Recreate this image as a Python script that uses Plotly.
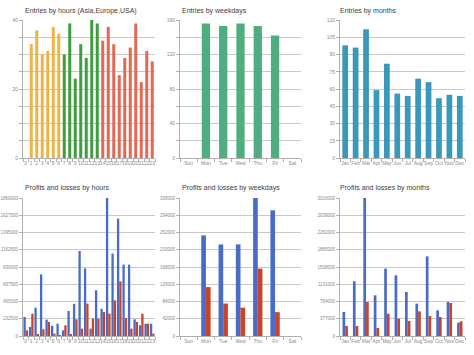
import plotly.graph_objects as go

# ---------------- data ----------------
hours = [str(h) for h in range(24)]
hour_entries = [0, 33, 37, 30, 31, 38, 36, 30, 39, 23, 33, 29, 40, 39, 34, 38, 33, 24, 29, 32, 39, 22, 31, 28]
hour_region = ["Asia"] * 7 + ["Europe"] * 7 + ["USA"] * 10

weekdays = ["Sun", "Mon", "Tue", "Wed", "Thu", "Fri", "Sat"]
weekday_entries = [0, 156, 153, 156, 153, 142, 0]

months = ["Jan", "Feb", "Mar", "Apr", "May", "Jun", "Jul", "Aug", "Sep", "Oct", "Nov", "Dec"]
month_entries = [98, 96, 112, 59, 82, 56, 54, 69, 66, 52, 55, 54]

hour_profits = [256000, 121000, 382000, 831000, 220000, 139000, 166000, 76000, 337000, 434000,
                1146000, 912000, 99000, 616000, 368000, 1900000, 1111000, 1582000, 962000, 962000,
                225000, 144000, 166000, 166000]
hour_losses = [76000, 301000, 20000, 90000, 189000, 31000, 10000, 144000, 15000, 225000,
               99000, 436000, 234000, 234000, 324000, 301000, 480000, 737000, 243000, 99000,
               189000, 301000, 166000, 31000]

weekday_profits = [0, 245000, 223000, 223000, 340000, 306000, 0]
weekday_losses = [0, 119000, 79000, 69000, 164000, 58000, 0]

month_profits = [525000, 1195000, 3050000, 889000, 1472000, 1326000, 962000, 707000, 1741000, 561000, 743000, 291000]
month_losses = [219000, 219000, 743000, 175000, 488000, 379000, 328000, 539000, 437000, 415000, 721000, 321000]

titles = ["Entries by hours (Asia,Europe,USA)", "Entries by weekdays", "Entries by months",
          "Profits and losses by hours", "Profits and losses by weekdays", "Profits and losses by months"]

# y tick labels
top_hour_ticks = [0, 20, 40]
top_week_ticks = [0, 40, 80, 120, 160]
top_month_ticks = [0, 15, 30, 45, 60, 75, 90, 105, 120]
pl_hour_ticks = [0, 232500, 465000, 697500, 930000, 1162500, 1395000, 1627500, 1860000]
pl_week_ticks = [0, 42000, 84000, 126000, 168000, 210000, 252000, 294000, 336000]
pl_month_ticks = [0, 377000, 754000, 1131000, 1508000, 1885000, 2262000, 2639000, 3016000]

# ---------------- styling ----------------
FONT = "Liberation Sans, Arial, sans-serif"
GRID = "#c9c9c9"
TICKC = "#8a8a8a"
AXC = "#b0b0b0"
region_colors = {"Asia": "#efb446", "Europe": "#3f9e3f", "USA": "#e26a55"}
BLUE = "#4a6cc6"
RED = "#c8442a"

W, H = 474, 355
def px_x(p): return p / W
def px_y(p): return 1 - p / H

xdom = [(23, 155), (180, 301), (340, 465)]
ydom = [(20, 158), (198, 336)]

fig = go.Figure()

def add_axes(i, cats, ticks, rng, minor_dtick=None, yfont=5):
    row = i // 3
    col = i % 3
    xa = "xaxis" if i == 0 else f"xaxis{i+1}"
    ya = "yaxis" if i == 0 else f"yaxis{i+1}"
    xr = "x" if i == 0 else f"x{i+1}"
    yr = "y" if i == 0 else f"y{i+1}"
    x0, x1 = xdom[col]
    y0, y1 = ydom[row]
    xaxis = dict(domain=[px_x(x0), px_x(x1)], anchor=yr, type="category",
                 categoryorder="array", categoryarray=cats,
                 tickmode="array", tickvals=cats, ticktext=cats,
                 showline=True, linecolor=AXC, linewidth=1,
                 ticks="outside", tickson="boundaries", ticklen=3, tickcolor=AXC,
                 tickfont=dict(family=FONT, size=5, color=TICKC),
                 showgrid=False, zeroline=False, tickangle=0, fixedrange=True,
                 automargin=False)
    yaxis = dict(domain=[px_y(y1), px_y(y0)], anchor=xr, range=rng,
                 tickmode="array", tickvals=ticks, ticktext=[str(t) for t in ticks],
                 showline=True, linecolor=AXC, linewidth=1,
                 ticks="outside", ticklen=3, tickcolor=AXC,
                 tickfont=dict(family=FONT, size=yfont, color=TICKC),
                 showgrid=True, gridcolor=GRID, gridwidth=1, zeroline=False, fixedrange=True,
                 automargin=False)
    if minor_dtick:
        yaxis["minor"] = dict(dtick=minor_dtick, showgrid=True, gridcolor=GRID,
                              ticks="outside", ticklen=3, tickcolor=AXC)
    fig.update_layout(**{xa: xaxis, ya: yaxis})
    return xr, yr

# --- chart 1: entries by hours
xr, yr = add_axes(0, hours, top_hour_ticks, [0, 40], minor_dtick=5)
for region in ["Asia", "Europe", "USA"]:
    xs = [h for h, r in zip(hours, hour_region) if r == region]
    ys = [v for v, r in zip(hour_entries, hour_region) if r == region]
    fig.add_trace(go.Bar(x=xs, y=ys, xaxis=xr, yaxis=yr, width=0.55,
                         marker=dict(color=region_colors[region], line=dict(width=0)),
                         showlegend=False, name=region))

# --- chart 2: entries by weekdays
xr, yr = add_axes(1, weekdays, top_week_ticks, [0, 160], minor_dtick=20)
fig.add_trace(go.Bar(x=weekdays, y=weekday_entries, xaxis=xr, yaxis=yr, width=0.48,
                     marker=dict(color="#4fae80", line=dict(width=0)), showlegend=False))

# --- chart 3: entries by months
xr, yr = add_axes(2, months, top_month_ticks, [0, 120])
fig.add_trace(go.Bar(x=months, y=month_entries, xaxis=xr, yaxis=yr, width=0.55,
                     marker=dict(color="#3a98b8", line=dict(width=0)), showlegend=False))

# --- bottom row: profits and losses
def add_pl(i, cats, prof, loss, ticks, bw):
    xr, yr = add_axes(i, cats, ticks, [0, ticks[-1]], yfont=4.5)
    fig.add_trace(go.Bar(x=cats, y=prof, xaxis=xr, yaxis=yr, width=bw, offset=-bw,
                         marker=dict(color=BLUE, line=dict(width=0)), showlegend=False, name="Profits"))
    fig.add_trace(go.Bar(x=cats, y=loss, xaxis=xr, yaxis=yr, width=bw, offset=0,
                         marker=dict(color=RED, line=dict(width=0)), showlegend=False, name="Losses"))

add_pl(3, hours, hour_profits, hour_losses, pl_hour_ticks, 0.42)
add_pl(4, weekdays, weekday_profits, weekday_losses, pl_week_ticks, 0.27)
add_pl(5, months, month_profits, month_losses, pl_month_ticks, 0.26)

# titles
title_pos = [(23, 11), (180, 11), (338, 11), (23, 188), (180, 188), (338, 188)]
for t, (tx, ty) in zip(titles, title_pos):
    fig.add_annotation(text=t, x=px_x(tx), y=px_y(ty), xref="paper", yref="paper",
                       xanchor="left", yanchor="middle", showarrow=False,
                       font=dict(family=FONT, size=7, color="#404040"))

fig.update_layout(width=W, height=H, margin=dict(l=0, r=0, t=0, b=0, pad=0, autoexpand=False),
                  paper_bgcolor="white", plot_bgcolor="white",
                  barmode="overlay", showlegend=False)

fig.write_html("out.html", config={"displayModeBar": False},
               post_script="document.body.style.margin='0';document.body.style.overflow='hidden';")
